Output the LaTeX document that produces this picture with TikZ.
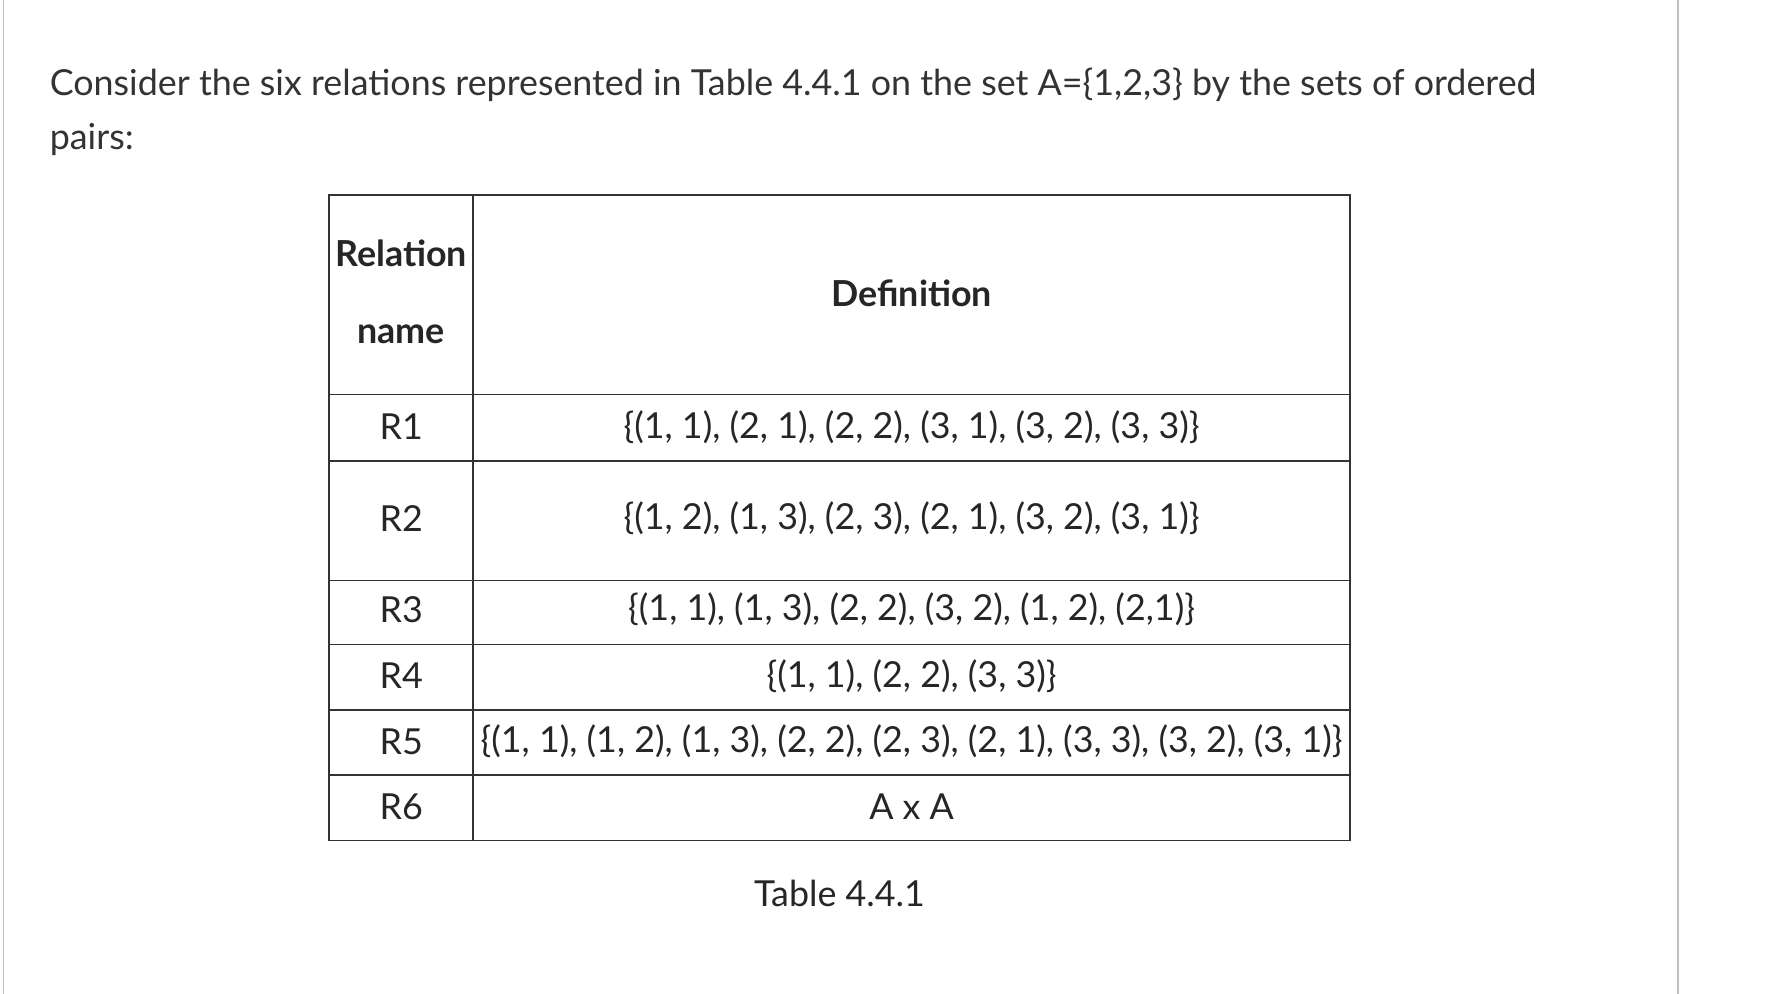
\documentclass[tikz,border=0pt]{standalone}
\usepackage{fontspec}
\setmainfont{Lato}
\begin{document}
\begin{tikzpicture}[x=1pt,y=-1pt,
 body/.style={font=\fontsize{31.8}{36}\selectfont,text=black!80,inner sep=0pt},
 cell/.style={font=\fontsize{31.8}{36}\selectfont,text=black!85,inner sep=0pt},
 hdr/.style={font=\fontsize{31.8}{36}\selectfont\bfseries,text=black!85,inner sep=0pt},
 grid/.style={line width=1.4pt,draw=black!80}]
\useasboundingbox (0,0) rectangle (1569,882);
\draw[black!25,line width=1.5pt] (3,0) -- (3,882);
\draw[black!25,line width=1.5pt] (1489,0) -- (1489,882);
\node[body,anchor=base west] (l1) at (44,85) {Consider the six relations represented in Table 4.4.1 on the set A=\{1,2,3\} by the sets of ordered};
\node[body,anchor=base west] (l2) at (44,133) {pairs:};
\draw[grid] (292,173) rectangle (1198,746);
\draw[grid] (420,173) -- (420,746);
\foreach \y in {350,409,515,572,630,688} \draw[grid] (292,\y) -- (1198,\y);
\node[hdr] (h1) at (356,225) {Relation};
\node[hdr] (h2) at (356,297) {name};
\node[hdr] (h3) at (809,260) {Definition};
\node[cell] (r1) at (356,379) {R1};
\node[cell] (d1) at (809,379) {\{(1, 1), (2, 1), (2, 2), (3, 1), (3, 2), (3, 3)\}};
\node[cell] (r2) at (356,460) {R2};
\node[cell] (d2) at (809,460) {\{(1, 2), (1, 3), (2, 3), (2, 1), (3, 2), (3, 1)\}};
\node[cell] (r3) at (356,541) {R3};
\node[cell] (d3) at (809,541) {\{(1, 1), (1, 3), (2, 2), (3, 2), (1, 2), (2,1)\}};
\node[cell] (r4) at (356,600) {R4};
\node[cell] (d4) at (809,600) {\{(1, 1), (2, 2), (3, 3)\}};
\node[cell] (r5) at (356,658) {R5};
\node[cell] (d5) at (809,658) {\{(1, 1), (1, 2), (1, 3), (2, 2), (2, 3), (2, 1), (3, 3), (3, 2), (3, 1)\}};
\node[cell] (r6) at (356,716) {R6};
\node[cell] (d6) at (809,716) {A x A};
\node[cell] (cap) at (745,793) {Table 4.4.1};
\end{tikzpicture}
\end{document}
